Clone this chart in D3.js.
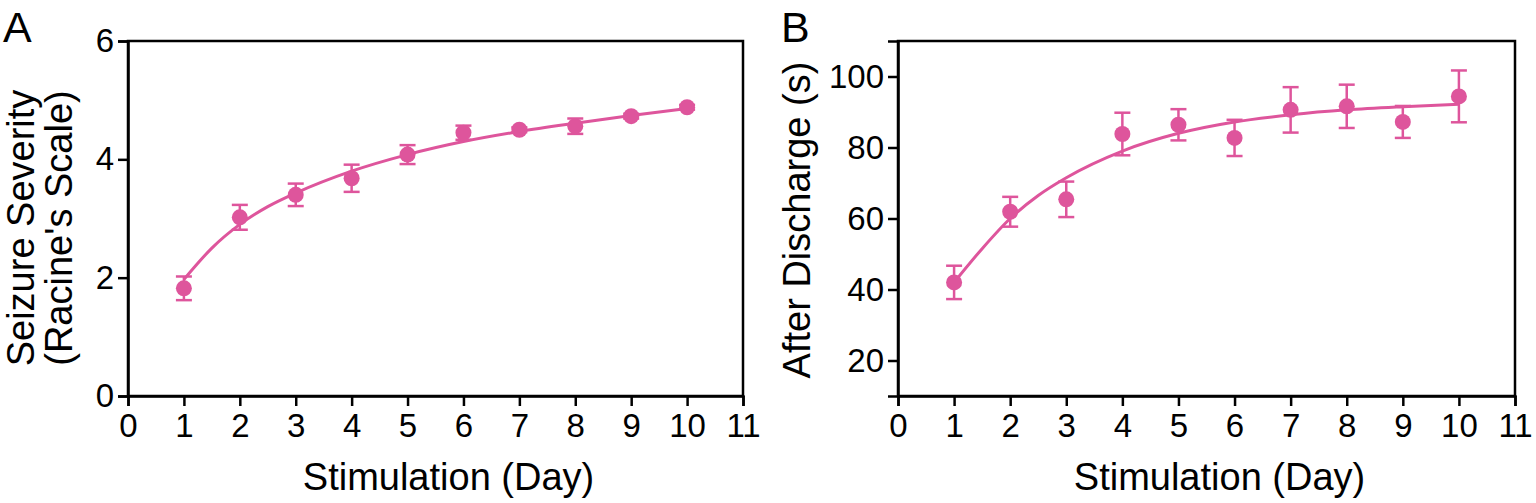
<!DOCTYPE html>
<html>
<head>
<meta charset="utf-8">
<script src="https://cdn.jsdelivr.net/npm/d3@7"></script>
<style>
  body { margin: 0; background: #fff; }
  svg text { font-family: "Liberation Sans", Arial, sans-serif; fill: #000; }
  .axis path, .axis line { stroke: #000; stroke-width: 2.5; }
</style>
</head>
<body>
<div id="chart"></div>
<script>
// Data
var days = [1, 2, 3, 4, 5, 6, 7, 8, 9, 10];
var severityMean = [1.82, 3.02, 3.40, 3.68, 4.08, 4.45, 4.50, 4.56, 4.73, 4.88];
var severityErr  = [0.20, 0.21, 0.19, 0.23, 0.16, 0.12, 0.04, 0.13, 0.04, 0.04];
var dischargeMean = [42.0, 61.9, 65.4, 83.8, 86.4, 82.7, 90.6, 91.6, 87.2, 94.4];
var dischargeErr  = [4.7, 4.2, 5.0, 6.0, 4.4, 5.1, 6.4, 6.1, 4.5, 7.3];

// fitted curves
var fitDays = [1, 1.5, 2, 2.5, 3, 4, 5, 6, 7, 8, 9, 10];
var severityFit  = [1.97, 2.5, 2.9, 3.2, 3.43, 3.8, 4.08, 4.3, 4.47, 4.61, 4.74, 4.86];
var dischargeFit = [42, 51.5, 60, 66.5, 71.5, 79, 84, 87.2, 89.2, 90.6, 91.5, 92.2];

var xTicks = [0, 1, 2, 3, 4, 5, 6, 7, 8, 9, 10, 11];
var severityTicks = [0, 2, 4, 6];
var dischargeTicks = [20, 40, 60, 80, 100];

var pink = "#de559c";

var svg = d3.select("#chart")
  .append("svg")
  .attr("width", 1536)
  .attr("height", 503);

function drawPanel(opts) {
  var x = d3.scaleLinear().domain([0, 11]).range([opts.left, opts.right]);
  var y = d3.scaleLinear().domain(opts.yDomain).range([396, 41]);

  var g = svg.append("g");

  // frame (top + right sides)
  g.append("rect")
    .attr("x", opts.left)
    .attr("y", 41)
    .attr("width", opts.right - opts.left)
    .attr("height", 396 - 41)
    .attr("fill", "none")
    .attr("stroke", "#000")
    .attr("stroke-width", 2.5);

  var xAxis = g.append("g")
    .attr("class", "axis")
    .attr("transform", "translate(0,396)")
    .call(d3.axisBottom(x).tickValues(xTicks).tickSize(10).tickPadding(8).tickFormat(d3.format("d")));
  xAxis.selectAll("text").style("font-size", "33px");

  var yAxis = g.append("g")
    .attr("class", "axis")
    .attr("transform", `translate(${opts.left},0)`)
    .call(d3.axisLeft(y).tickValues(opts.yTicks).tickSize(10).tickPadding(4).tickFormat(d3.format("d")));
  yAxis.selectAll("text").style("font-size", "33px");

  // fitted line
  var line = d3.line()
    .x(d => x(d[0]))
    .y(d => y(d[1]))
    .curve(d3.curveMonotoneX);

  g.append("path")
    .datum(fitDays.map((d, i) => [d, opts.fit[i]]))
    .attr("d", line)
    .attr("fill", "none")
    .attr("stroke", pink)
    .attr("stroke-width", 3);

  var pts = days.map((d, i) => ({ day: d, mean: opts.mean[i], err: opts.err[i] }));

  // error bars
  var eb = g.selectAll(".eb")
    .data(pts)
    .enter()
    .append("g")
    .attr("stroke", pink)
    .attr("stroke-width", 2.5);

  eb.append("line")
    .attr("x1", d => x(d.day)).attr("x2", d => x(d.day))
    .attr("y1", d => y(d.mean - d.err)).attr("y2", d => y(d.mean + d.err));
  eb.append("line")
    .attr("x1", d => x(d.day) - 8).attr("x2", d => x(d.day) + 8)
    .attr("y1", d => y(d.mean + d.err)).attr("y2", d => y(d.mean + d.err));
  eb.append("line")
    .attr("x1", d => x(d.day) - 8).attr("x2", d => x(d.day) + 8)
    .attr("y1", d => y(d.mean - d.err)).attr("y2", d => y(d.mean - d.err));

  g.selectAll("circle")
    .data(pts)
    .enter()
    .append("circle")
    .attr("cx", d => x(d.day))
    .attr("cy", d => y(d.mean))
    .attr("r", 8)
    .attr("fill", pink);

  // x axis title
  g.append("text")
    .attr("x", (opts.left + opts.right) / 2 + 13)
    .attr("y", 490)
    .attr("text-anchor", "middle")
    .style("font-size", "38px")
    .text("Stimulation (Day)");

  // y axis title(s)
  opts.yTitle.forEach(function(t, i) {
    g.append("text")
      .attr("transform", `translate(${opts.yTitleX[i]},${opts.yTitleY}) rotate(-90)`)
      .attr("text-anchor", "middle")
      .style("font-size", "38px")
      .text(t);
  });

  // panel letter
  g.append("text")
    .attr("x", opts.letterX)
    .attr("y", 42)
    .style("font-size", "43px")
    .text(opts.letter);
}

drawPanel({
  left: 128, right: 743,
  yDomain: [0, 6], yTicks: severityTicks,
  mean: severityMean, err: severityErr, fit: severityFit,
  yTitle: ["Seizure Severity", "(Racine's Scale)"],
  yTitleX: [34, 72], yTitleY: 228,
  letter: "A", letterX: 3
});

drawPanel({
  left: 898, right: 1515,
  yDomain: [10, 110], yTicks: dischargeTicks,
  mean: dischargeMean, err: dischargeErr, fit: dischargeFit,
  yTitle: ["After Discharge (s)"],
  yTitleX: [810], yTitleY: 220,
  letter: "B", letterX: 781
});
</script>
</body>
</html>
